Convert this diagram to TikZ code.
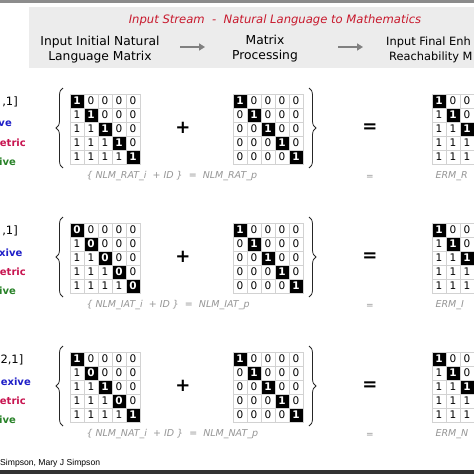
\documentclass[tikz,border=0pt]{standalone}
\usepackage{fontspec}
\setmainfont{DejaVu Sans}
\newfontfamily\credfont{Liberation Sans}
\usetikzlibrary{arrows.meta,decorations.pathreplacing}
\definecolor{titlered}{RGB}{200,25,45}
\definecolor{lblue}{RGB}{30,30,200}
\definecolor{lcrim}{RGB}{200,20,80}
\definecolor{lgreen}{RGB}{40,130,40}
\definecolor{hdrgray}{RGB}{236,236,236}
\definecolor{topgray}{RGB}{140,140,140}
\definecolor{botgray}{RGB}{50,50,50}
\definecolor{capgray}{RGB}{150,150,150}
\definecolor{arrgray}{RGB}{128,128,128}
\newcommand\drawmat[4]{%
  \foreach \row [count=\r from 0] in {#4} {
    \foreach \v [count=\c from 0] in \row {
      \ifnum\r=\c
        \node[hcell] (#1-\r-\c) at (#2+7+14*\c, #3+7+14*\r) {\v};
      \else
        \node[cell] (#1-\r-\c) at (#2+7+14*\c, #3+7+14*\r) {\v};
      \fi
    }
  }
}
\begin{document}
\begin{tikzpicture}[x=1pt,y=-1pt,
  cell/.style={draw=gray!35, line width=0.5pt, fill=white, minimum size=14pt, inner sep=0pt, font=\fontsize{10.5}{10.5}\selectfont},
  hcell/.style={cell, fill=black, text=white, font=\fontsize{10.5}{10.5}\selectfont\bfseries},
  hdrtext/.style={align=center, font=\fontsize{12.3}{15}\selectfont},
  hdrleft/.style={anchor=west, inner sep=0pt, font=\fontsize{11.4}{15}\selectfont},
  titletext/.style={text=titlered, font=\fontsize{11.6}{14}\selectfont\itshape},
  harrow/.style={draw=arrgray, line width=2.2pt, -{Triangle[length=6pt,width=7pt]}},
  bracestyle/.style={draw=black!85, line width=0.8pt, decorate, decoration={brace, amplitude=7pt}},
  captext/.style={text=capgray, anchor=west, font=\fontsize{9.5}{10}\selectfont\itshape},
  optext/.style={font=\fontsize{18}{18}\selectfont\bfseries},
  brtext/.style={anchor=east, inner sep=0pt, font=\fontsize{11.5}{14}\selectfont},
  proptext/.style={anchor=east, inner sep=0pt, font=\fontsize{10}{12}\selectfont\bfseries},
]
\useasboundingbox (0,0) rectangle (474,474);
\clip (0,0) rectangle (474,474);
\fill[white] (0,0) rectangle (474,474);
\fill[topgray] (0,0) rectangle (474,3);
\fill[hdrgray] (29,7) rectangle (474,68);
\fill[botgray] (0,470) rectangle (474,474);

% header
\node[titletext] (title) at (275,20) {Input Stream\ \ -\ \ Natural Language to Mathematics};
\node[hdrtext] (h1) at (100,49.5) {Input Initial Natural\\Language Matrix};
\node[hdrtext] (h2) at (265,48.5) {Matrix\\Processing};
\node[hdrleft] (h3a) at (386,42) {Input Final Enh};
\node[hdrleft] (h3b) at (389,57) {Reachability M};
\coordinate (a1s) at (180,47);
\coordinate (a1e) at (205,47);
\coordinate (a2s) at (338,47);
\coordinate (a2e) at (363,47);
\draw[harrow] (a1s) -- (a1e);
\draw[harrow] (a2s) -- (a2e);

% row labels (visible parts at the cropped left edge)
\node[brtext] (b1) at (18,102) {,1]};
\node[proptext, text=lblue] (p11) at (12,124) {ve};
\node[proptext, text=lcrim] (p12) at (26,143) {etric};
\node[proptext, text=lgreen] (p13) at (16,162) {ive};

\node[brtext] (b2) at (18,231) {,1]};
\node[proptext, text=lblue] (p21) at (22.5,253) {xive};
\node[proptext, text=lcrim] (p22) at (26,272) {etric};
\node[proptext, text=lgreen] (p23) at (16,291) {ive};

\node[brtext] (b3) at (23.5,360) {2,1]};
\node[proptext, text=lblue] (p31) at (31,382) {exive};
\node[proptext, text=lcrim] (p32) at (26,401) {etric};
\node[proptext, text=lgreen] (p33) at (16,420) {ive};

% row 1
\drawmat{ma}{70}{94}{{1,0,0,0,0},{1,1,0,0,0},{1,1,1,0,0},{1,1,1,1,0},{1,1,1,1,1}}
\drawmat{mb}{233}{94}{{1,0,0,0,0},{0,1,0,0,0},{0,0,1,0,0},{0,0,0,1,0},{0,0,0,0,1}}
\drawmat{mc}{432}{94}{{1,0,0},{1,1,0},{1,1,1},{1,1,1},{1,1,1}}
% row 2
\drawmat{md}{70}{223}{{0,0,0,0,0},{1,0,0,0,0},{1,1,0,0,0},{1,1,1,0,0},{1,1,1,1,0}}
\drawmat{me}{233}{223}{{1,0,0,0,0},{0,1,0,0,0},{0,0,1,0,0},{0,0,0,1,0},{0,0,0,0,1}}
\drawmat{mf}{432}{223}{{1,0,0},{1,1,0},{1,1,1},{1,1,1},{1,1,1}}
% row 3
\drawmat{mg}{70}{352}{{1,0,0,0,0},{1,0,0,0,0},{1,1,1,0,0},{1,1,1,0,0},{1,1,1,1,1}}
\drawmat{mh}{233}{352}{{1,0,0,0,0},{0,1,0,0,0},{0,0,1,0,0},{0,0,0,1,0},{0,0,0,0,1}}
\drawmat{mi}{432}{352}{{1,0,0},{1,1,0},{1,1,1},{1,1,1},{1,1,1}}

% braces, operators, captions
\foreach \yy/\nm/\ltr/\cn in {0/RAT/R/r1, 129/IAT/I/r2, 258/NAT/N/r3} {
  \draw[bracestyle] (63,168+\yy) -- (63,88+\yy);
  \draw[bracestyle] (309,88+\yy) -- (309,168+\yy);
  \node[optext] (plus\cn) at (183,128+\yy) {+};
  \node[optext] (eq\cn) at (370,128+\yy) {=};
  \node[captext] (cap\cn) at (83,176+\yy) {\{ NLM\_\nm\_i\ \ + ID \}\ \ =\ \ NLM\_\nm\_p};
  \node[text=capgray, font=\fontsize{9}{10}\selectfont] (ceq\cn) at (370,177+\yy) {=};
  \node[captext] (erm\cn) at (432,176+\yy) {ERM\_\ltr};
}

% credit
\node[anchor=west, inner sep=0pt, font=\credfont\fontsize{8.6}{10}\selectfont] (credit) at (0,463) {Simpson, Mary J Simpson};
\end{tikzpicture}
\end{document}
